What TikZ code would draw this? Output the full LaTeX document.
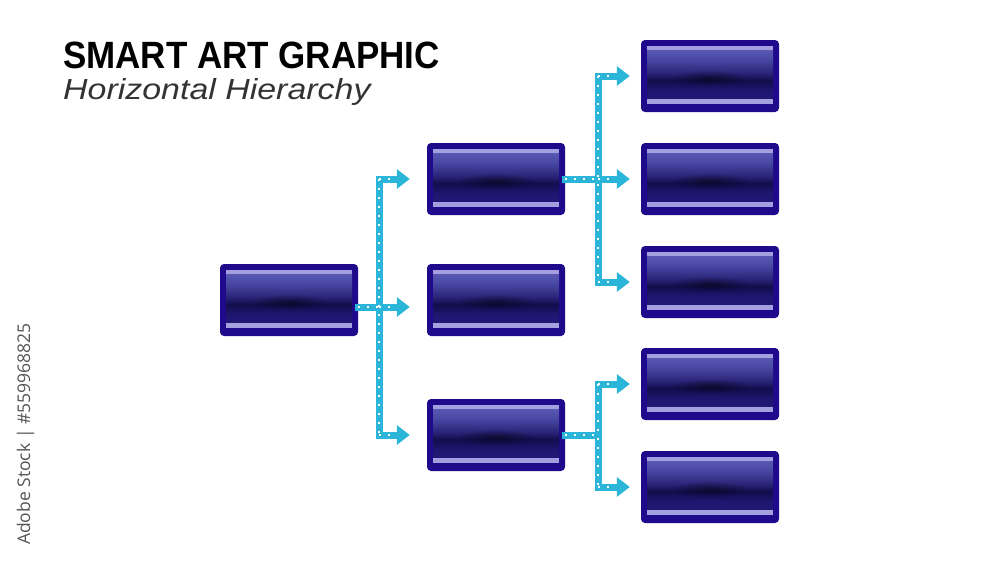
\documentclass[tikz,border=0pt]{standalone}
\usepackage{fontspec}
\setmainfont{Liberation Sans}
\newfontfamily\wmfont{Open Sans}
\usetikzlibrary{arrows.meta,fadings}
\definecolor{navy}{HTML}{1E0A8A}
\definecolor{lav}{HTML}{A4A0E0}
\definecolor{cy}{HTML}{2BB6D9}
\definecolor{subgray}{HTML}{333333}
\definecolor{wmgray}{HTML}{555555}
\definecolor{ga}{HTML}{261B82}
\definecolor{gb}{HTML}{1E1670}
\definecolor{gc}{HTML}{120D4C}
\definecolor{gd}{HTML}{2A2478}
\definecolor{ge}{HTML}{4A4AA6}
\definecolor{gf}{HTML}{6A6AC2}
\pgfdeclareverticalshading{gloss}{100bp}{color(0bp)=(ga); color(25bp)=(ga); color(40bp)=(gb); color(47bp)=(gc); color(52bp)=(gd); color(62bp)=(ge); color(75bp)=(gf); color(100bp)=(gf)}
\tikzfading[name=spot, inner color=transparent!55, outer color=transparent!100]
\begin{document}
\begin{tikzpicture}[x=1pt,y=-1pt,
  box/.style={fill=navy, rounded corners=4pt, minimum width=138pt, minimum height=72pt, inner sep=0pt,
    path picture={
      \shade[sharp corners, shading=gloss] ([shift={(6pt,-10pt)}]path picture bounding box.north west) rectangle ([shift={(-6pt,12pt)}]path picture bounding box.south east);
      \fill[sharp corners, black, path fading=spot, fit fading=true] ([shift={(30pt,-30pt)}]path picture bounding box.north west) rectangle ([shift={(-30pt,26pt)}]path picture bounding box.south east);
      \fill[sharp corners, lav] ([shift={(6pt,-6pt)}]path picture bounding box.north west) rectangle ([shift={(-6pt,-10pt)}]path picture bounding box.north east);
      \fill[sharp corners, lav] ([shift={(6pt,8pt)}]path picture bounding box.south west) rectangle ([shift={(-6pt,13pt)}]path picture bounding box.south east);
    }},
  conn/.style={draw=cy, line width=7pt, line cap=rect},
  arrA/.style={draw=cy, line width=7pt, -{Triangle[length=13pt,width=19pt]}, shorten >=17pt},
  arrB/.style={draw=cy, line width=7pt, -{Triangle[length=13pt,width=19pt]}, shorten >=11pt},
  dots/.style={draw=white, line width=1.6pt, dash pattern=on 2pt off 7pt},
]
\useasboundingbox (0,0) rectangle (1000,563);
\fill[white] (0,0) rectangle (1000,563);

% title
\node[anchor=base west, inner sep=0pt, font=\bfseries\fontsize{38}{38}\selectfont] (title) at (63,68) {\scalebox{0.92}[1]{SMART ART GRAPHIC}};
\node[anchor=base west, inner sep=0pt, text=subgray, font=\itshape\fontsize{29}{29}\selectfont] (subtitle) at (63,99) {\scalebox{1.17}[1]{Horizontal Hierarchy}};

% watermark label
\node[rotate=90, anchor=base west, inner sep=0pt, text=wmgray, font=\wmfont\fontsize{17.5}{17.5}\selectfont] (wm) at (30,545) {Adobe Stock | \#559968825};

% boxes
\node[box] (r) at (289,300) {};
\node[box] (m1) at (496,179) {};
\node[box] (m2) at (496,300) {};
\node[box] (m3) at (496,435) {};
\node[box] (t1) at (710,76) {};
\node[box] (t2) at (710,179) {};
\node[box] (t3) at (710,282) {};
\node[box] (t4) at (710,384) {};
\node[box] (t5) at (710,487) {};

% junctions
\coordinate (j1) at (379,307);
\coordinate (j2) at (598,179);
\coordinate (j3) at (598,435);

% level 1
\draw[conn] ([yshift=-7pt]r.east) -- (j1);
\draw[conn] (j1 |- m1.west) -- (j1 |- m3.west);
\draw[arrA] (j1 |- m1.west) -- (m1.west);
\draw[arrA] (j1) -- ([yshift=-7pt]m2.west);
\draw[arrA] (j1 |- m3.west) -- (m3.west);
% level 2 top
\draw[conn] (m1.east) -- (j2);
\draw[conn] (j2 |- t1.west) -- (j2 |- t3.west);
\draw[arrB] (j2 |- t1.west) -- (t1.west);
\draw[arrB] (j2) -- (t2.west);
\draw[arrB] (j2 |- t3.west) -- (t3.west);
% level 2 bottom
\draw[conn] (m3.east) -- (j3);
\draw[conn] (j3 |- t4.west) -- (j3 |- t5.west);
\draw[arrB] (j3 |- t4.west) -- (t4.west);
\draw[arrB] (j3 |- t5.west) -- (t5.west);

% white dotted inlay
\draw[dots] ([yshift=-7pt]r.east) -- (j1);
\draw[dots] (j1 |- m1.west) -- (j1 |- m3.west);
\draw[dots] (j1 |- m1.west) -- ([xshift=-31pt]m1.west);
\draw[dots] (j1) -- ([shift={(-31pt,-7pt)}]m2.west);
\draw[dots] (j1 |- m3.west) -- ([xshift=-31pt]m3.west);
\draw[dots] (m1.east) -- (j2);
\draw[dots] (j2 |- t1.west) -- (j2 |- t3.west);
\draw[dots] (j2 |- t1.west) -- ([xshift=-25pt]t1.west);
\draw[dots] (j2) -- ([xshift=-25pt]t2.west);
\draw[dots] (j2 |- t3.west) -- ([xshift=-25pt]t3.west);
\draw[dots] (m3.east) -- (j3);
\draw[dots] (j3 |- t4.west) -- (j3 |- t5.west);
\draw[dots] (j3 |- t4.west) -- ([xshift=-25pt]t4.west);
\draw[dots] (j3 |- t5.west) -- ([xshift=-25pt]t5.west);
\end{tikzpicture}
\end{document}
